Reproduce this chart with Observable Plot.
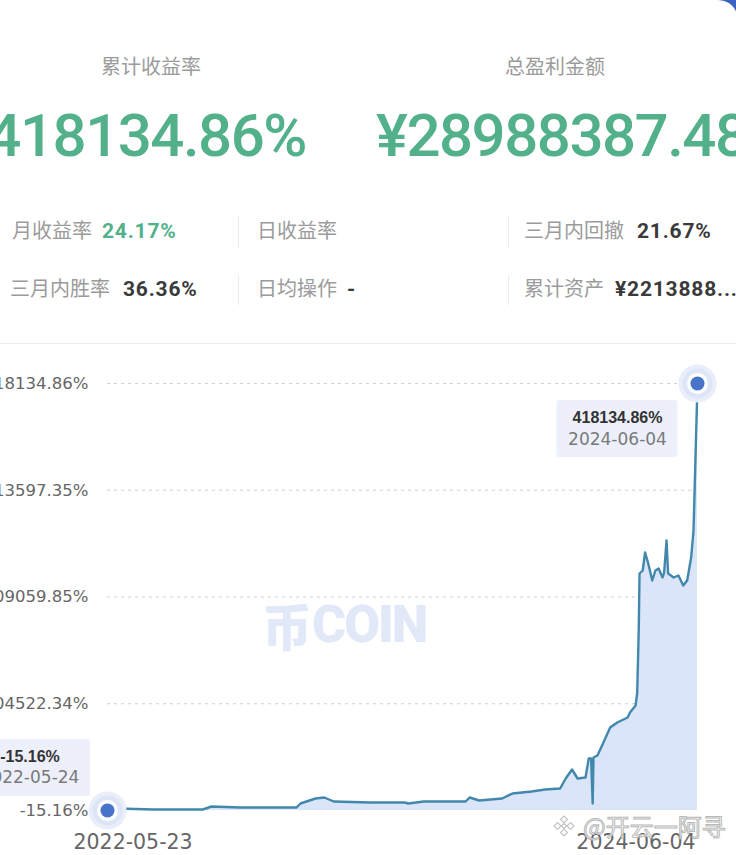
<!DOCTYPE html>
<html><head><meta charset="utf-8">
<script src="https://cdn.jsdelivr.net/npm/d3@7"></script>
<script src="https://cdn.jsdelivr.net/npm/@observablehq/plot@0.6"></script>
<style>
html,body{margin:0;padding:0;background:#fff;}
body{width:736px;height:855px;overflow:hidden;position:relative;font-family:"Noto Sans CJK SC","Noto Sans",sans-serif;}
.abs{position:absolute;white-space:nowrap;}
.lbl{color:#9b9b9b;font-size:20px;line-height:20px;}
.big{font-family:Roboto,sans-serif;font-weight:500;font-size:60px;line-height:60px;color:#52b08a;letter-spacing:-1.5px;}
.k{color:#9b9b9b;font-size:20px;line-height:20px;}
.v{font-family:Roboto,sans-serif;font-weight:700;font-size:21px;line-height:21px;letter-spacing:0.8px;color:#3a3a3a;}
.vl{position:absolute;width:1px;background:#ebebeb;}
#chart{position:absolute;left:0;top:350px;z-index:2;}
#wm{position:absolute;left:262px;top:588px;z-index:1;color:#e1e8f7;white-space:nowrap;}
#wm2{position:absolute;left:553px;top:814px;z-index:3;white-space:nowrap;display:flex;align-items:center;}
</style></head><body>
<div class="abs" style="left:700px;top:0;width:36px;height:36px;background:#3b63c4;"></div>
<div class="abs" style="left:698px;top:0;width:40px;height:40px;background:#fff;border-top-right-radius:20px;"></div>

<div class="abs lbl" style="left:0;width:302px;text-align:center;top:56px;">累计收益率</div>
<div class="abs lbl" style="left:455px;width:200px;text-align:center;top:56px;">总盈利金额</div>
<div class="abs big" style="left:-60px;width:366px;text-align:right;top:106px;">418134.86%</div>
<div class="abs big" style="left:376px;top:106px;">¥28988387.48</div>

<div class="abs k" style="left:12px;top:220px;">月收益率</div>
<div class="abs v" style="left:102px;top:221px;color:#52b08a;">24.17%</div>
<div class="vl" style="left:238px;top:216px;height:32px;"></div>
<div class="abs k" style="left:257px;top:220px;">日收益率</div>
<div class="vl" style="left:508px;top:216px;height:32px;"></div>
<div class="abs k" style="left:524px;top:220px;">三月内回撤</div>
<div class="abs v" style="left:637px;top:221px;">21.67%</div>

<div class="abs k" style="left:10px;top:278px;">三月内胜率</div>
<div class="abs v" style="left:123px;top:279px;">36.36%</div>
<div class="vl" style="left:238px;top:275px;height:30px;"></div>
<div class="abs k" style="left:257px;top:278px;">日均操作</div>
<div class="abs v" style="left:347px;top:279px;">-</div>
<div class="vl" style="left:508px;top:275px;height:30px;"></div>
<div class="abs k" style="left:524px;top:278px;">累计资产</div>
<div class="abs v" style="left:615px;top:279px;">¥2213888...</div>

<div class="abs" style="left:0;top:343px;width:736px;height:1px;background:#ececec;"></div>

<div id="wm"><span style="font-size:50px;font-weight:900;vertical-align:middle;">币</span><span style="font-family:Roboto,sans-serif;font-size:52px;font-weight:900;letter-spacing:-2px;vertical-align:middle;">COIN</span></div>

<div id="chart"></div>

<div id="wm2">
<svg width="22" height="22" viewBox="0 0 22 22" style="margin-right:8px;"><g fill="rgba(255,255,255,0.7)" stroke="#c4c4c4" stroke-width="1.2"><path d="M11 1 L14.5 4.5 L11 8 L7.5 4.5 Z"/><path d="M4.5 7.5 L8 11 L4.5 14.5 L1 11 Z"/><path d="M17.5 7.5 L21 11 L17.5 14.5 L14 11 Z"/><path d="M11 14 L14.5 17.5 L11 21 L7.5 17.5 Z"/><path d="M11 8.5 L13.5 11 L11 13.5 L8.5 11 Z"/></g></svg>
<span style="font-size:24px;line-height:24px;color:rgba(255,255,255,0.65);-webkit-text-stroke:1px #b8b8b8;">@开云一阿寻</span>
</div>

<script>
const dates = ["2022-05-23","2022-06-05","2022-07-20","2022-09-20","2022-10-01","2022-11-06","2023-01-16","2023-01-21","2023-02-09","2023-02-20","2023-03-04","2023-04-19","2023-06-01","2023-06-06","2023-06-25","2023-08-17","2023-08-22","2023-09-03","2023-10-02","2023-10-15","2023-11-08","2023-11-25","2023-12-14","2023-12-21","2023-12-29","2024-01-05","2024-01-15","2024-01-19","2024-01-22","2024-01-24","2024-01-25","2024-01-30","2024-02-06","2024-02-15","2024-02-24","2024-03-08","2024-03-11","2024-03-18","2024-03-20","2024-03-22","2024-03-23","2024-03-27","2024-03-30","2024-04-03","2024-04-08","2024-04-12","2024-04-16","2024-04-21","2024-04-23","2024-04-26","2024-04-28","2024-05-05","2024-05-11","2024-05-17","2024-05-22","2024-05-27","2024-05-30","2024-06-04"];
const returns = [-15.16,1943,964,964,3902,2923,2923,6840,11736,12715,8798,7819,7819,6840,8798,8798,12715,9778,11736,16632,18590,20549,21528,31321,40134,31321,32300,50907,50907,6840,51886,53845,65596,81264,86160,91057,95953,102808,114559,176253,232071,235009,252635,241863,225216,235009,236967,228154,233050,264387,232071,228154,230112,220320,225216,247738,274178,418134.86];
const yTicks = [-15.16, 104522.34, 209059.85, 313597.35, 418134.86];
const yTickLabels = ["-15.16%", "104522.34%", "209059.85%", "313597.35%", "418134.86%"];
const xTickLabels = ["2022-05-23", "2024-06-04"];
const tipValues = ["-15.16%", "418134.86%"];
const tipDates = ["2022-05-24", "2024-06-04"];

const data = dates.map((d, i) => ({date: new Date(d), value: returns[i]}));
const first = data[0], last = data[data.length - 1];
const yMin = yTicks[0];

const chart = Plot.plot({
  width: 736, height: 505,
  marginTop: 33, marginBottom: 45, marginLeft: 107, marginRight: 39,
  style: {fontFamily: "'DejaVu Sans', sans-serif", fontSize: "16.5px", color: "#666", background: "transparent", overflow: "visible"},
  x: {type: "utc", domain: [new Date(xTickLabels[0]), new Date(xTickLabels[1])], axis: null},
  y: {domain: [yTicks[0], yTicks[yTicks.length - 1]], axis: null},
  marks: [
    Plot.gridY(yTicks.slice(1), {y: d => d, stroke: "#cfcfcf", strokeOpacity: 1, strokeDasharray: "3,4"}),
    Plot.axisY({ticks: yTicks, label: null, tickSize: 0, tickPadding: 19, tickFormat: d => yTickLabels[yTicks.indexOf(d)], fill: "#666", fontSize: 16.5}),
    Plot.areaY(data, {x: "date", y1: yMin, y2: "value", fill: "#dbe5f9", fillOpacity: 1}),
    Plot.lineY(data, {x: "date", y: "value", stroke: "#4288ac", strokeWidth: 2.4}),
    Plot.dot([first, last], {x: "date", y: "value", r: 19, fill: "#e9eefa"}),
    Plot.dot([first, last], {x: "date", y: "value", r: 15, fill: "#dde5f7"}),
    Plot.dot([first, last], {x: "date", y: "value", r: 10.5, fill: "#fff"}),
    Plot.dot([first, last], {x: "date", y: "value", r: 7, fill: "#4774c8"}),
    Plot.rect([last], {x1: "date", x2: "date", y1: "value", y2: "value", insetLeft: -60.5, insetRight: -60.5, insetTop: -28.5, insetBottom: -28.5, dx: -80, dy: 45.5, fill: "#edf0fa", rx: 3}),
    Plot.rect([first], {x1: "date", x2: "date", y1: "value", y2: "value", insetLeft: -60.5, insetRight: -60.5, insetTop: -28.5, insetBottom: -28.5, dx: -77.5, dy: -42.5, fill: "#edf0fa", rx: 3}),
    Plot.text([last], {x: "date", y: "value", text: () => tipValues[1], dx: -80, dy: 34, fontFamily: "'Liberation Sans', Arial, sans-serif", fontWeight: "bold", fontSize: 16, fill: "#333"}),
    Plot.text([last], {x: "date", y: "value", text: () => tipDates[1], dx: -80, dy: 56, fontSize: 17, fill: "#7a7a7a"}),
    Plot.text([first], {x: "date", y: "value", text: () => tipValues[0], dx: -77.5, dy: -54, fontFamily: "'Liberation Sans', Arial, sans-serif", fontWeight: "bold", fontSize: 16, fill: "#333"}),
    Plot.text([first], {x: "date", y: "value", text: () => tipDates[0], dx: -77.5, dy: -33, fontSize: 17, fill: "#7a7a7a"}),
    Plot.text([xTickLabels[0]], {x: d => new Date(d), y: () => yMin, text: d => d, textAnchor: "start", dx: -34, dy: 32, fontSize: 20.5, fill: "#666"}),
    Plot.text([xTickLabels[1]], {x: d => new Date(d), y: () => yMin, text: d => d, textAnchor: "end", dx: -2, dy: 32, fontSize: 20.5, fill: "#666"})
  ]
});
document.getElementById("chart").appendChild(chart);
</script>
</body></html>
